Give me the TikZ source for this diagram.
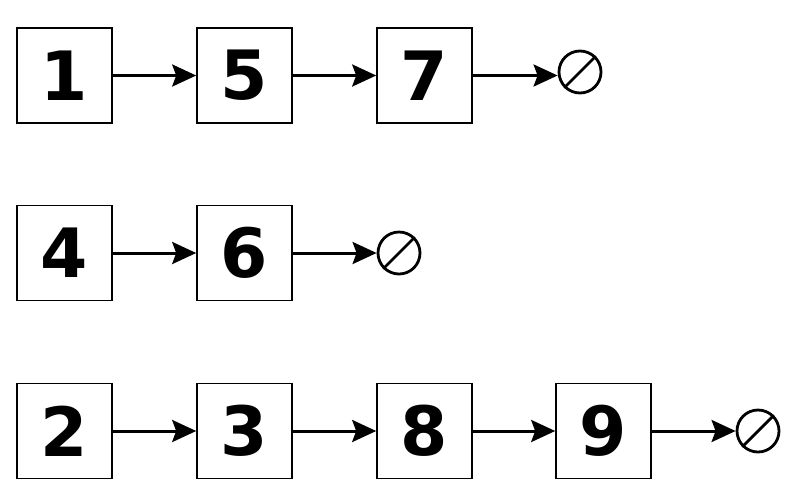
\documentclass[tikz,border=0pt]{standalone}
\usepackage{fontspec}
\setmainfont{DejaVu Sans}
\usetikzlibrary{arrows.meta,positioning}
\tikzset{
  cell/.style={draw,line width=1.6pt,minimum size=95pt,inner sep=0pt,font=\fontsize{68}{68}\selectfont\bfseries},
  nil/.style={draw,circle,line width=2.8pt,minimum size=42pt,inner sep=0pt},
  link/.style={-{Stealth[length=24pt,width=22pt,inset=4pt]},line width=3pt}
}
\begin{document}
\begin{tikzpicture}[x=1pt,y=-1pt]
        \useasboundingbox (0,0) rectangle (800,499);
        % first list
        \node[cell] (a1) at (64.5,75.5) {1};
        \node[cell] (a5) at (244.5,75.5) {5};
        \node[cell] (a7) at (424.5,75.5) {7};
        \node[nil] (na) at (580,72) {};
        % second list
        \node[cell] (b4) at (64.5,253) {4};
        \node[cell] (b6) at (244.5,253) {6};
        \node[nil] (nb) at (399,253) {};
        % third list
        \node[cell] (c2) at (64.5,431) {2};
        \node[cell] (c3) at (244.5,431) {3};
        \node[cell] (c8) at (424.5,431) {8};
        \node[cell] (c9) at (603.5,431) {9};
        \node[nil] (nc) at (758,431) {};

        \foreach \n in {na,nb,nc}
          \draw[line width=2.8pt] (\n.45) -- (\n.225);

        \draw[link] (a1) -- (a5);
        \draw[link] (a5) -- (a7);
        \draw[link] (a7.east) -- (na.west|-a7.east);
        \draw[link] (b4) -- (b6);
        \draw[link] (b6) -- (nb);
        \draw[link] (c2) -- (c3);
        \draw[link] (c3) -- (c8);
        \draw[link] (c8) -- (c9);
        \draw[link] (c9) -- (nc);
\end{tikzpicture}
\end{document}
